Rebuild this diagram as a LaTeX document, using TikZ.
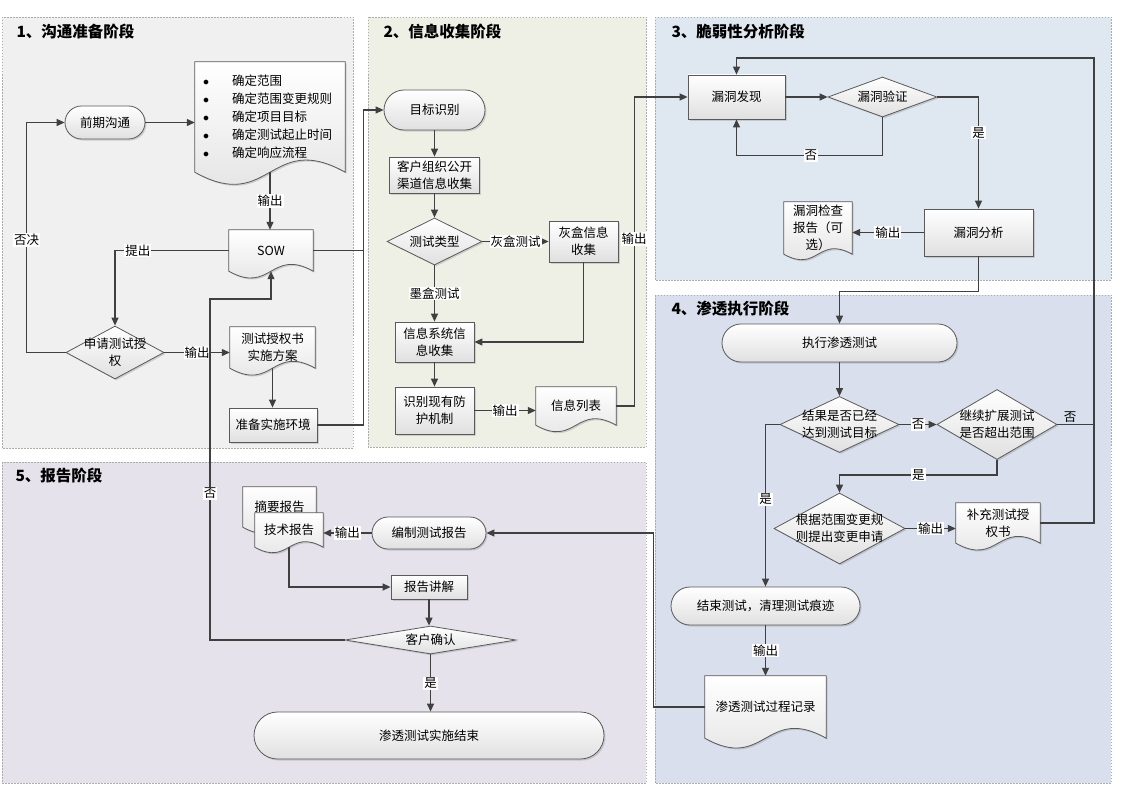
\documentclass[tikz,border=0pt]{standalone}
\usepackage{fontspec}
\setmainfont{Noto Sans CJK SC}
\usetikzlibrary{arrows.meta}
\usetikzlibrary{calc}
\usetikzlibrary{shapes.geometric,shapes.misc,shadows}

\definecolor{pa}{HTML}{F0F0F0}
\definecolor{pb}{HTML}{EEF0E6}
\definecolor{pc}{HTML}{DFE8F1}
\definecolor{pd}{HTML}{D9DFEC}
\definecolor{pe}{HTML}{E5E2EC}
\definecolor{linec}{HTML}{404040}
\definecolor{edgec}{HTML}{5A5A5A}
\definecolor{shadec}{HTML}{E0E0E0}

\pgfdeclarelayer{panels}
\pgfdeclarelayer{docs}
\pgfsetlayers{panels,docs,main}

\tikzset{
  txt/.style={font=\fontsize{12.5}{17}\selectfont},
  nodefill/.style={draw=edgec, line width=0.8pt, top color=white, bottom color=shadec,
    drop shadow={shadow xshift=1.5pt, shadow yshift=-1.5pt, opacity=0.3}},
  box/.style={nodefill, txt, rectangle, align=center, inner sep=2pt},
  term/.style={nodefill, txt, rounded rectangle, align=center, inner sep=2pt},
  dia/.style={nodefill, txt, diamond, align=center, inner sep=-6pt},
  doc/.style={txt, align=center, inner sep=2pt},
  wire/.style={draw=linec, line width=1.2pt},
  conn/.style={wire, -{Triangle[length=8pt,width=7pt]}},
  lbl/.style={txt, fill=white, inner sep=1pt},
  panel/.style={draw=gray!65, line width=0.8pt, dash pattern=on 1.5pt off 1.5pt},
  ttl/.style={anchor=west, font=\fontsize{15.5}{18}\selectfont\bfseries},
}

\begin{document}
\begin{tikzpicture}[x=1pt,y=-1pt]
\useasboundingbox (0,0) rectangle (1122,800);

% stage panels
\begin{pgfonlayer}{panels}
\fill[white] (0,0) rectangle (1122,800);
\foreach \xa/\ya/\xb/\yb/\c in {2/17/353/448/pa, 368/17/646/447/pb, 655/17/1111/280/pc, 655/295/1111/783/pd, 2/462/646/783/pe}
  \draw[panel, fill=\c] (\xa,\ya) rectangle (\xb,\yb);
\end{pgfonlayer}

\foreach \x/\y/\t [count=\i] in {13/32/1、沟通准备阶段, 380/32/2、信息收集阶段, 668/32/3、脆弱性分析阶段, 668/309/4、渗透执行阶段, 12/476/5、报告阶段}
  \node[ttl] (title\i) at (\x,\y) {\t};

% 1
\node[term, minimum width=84pt, minimum height=33pt] (talk) at (105,122.5) {前期沟通};
\node[doc, align=left, text width=134pt, inner xsep=8pt, minimum height=110pt,
  font=\fontsize{12.5}{18}\selectfont] (scope) at (270,117) {%
  \makebox[29pt][l]{$\bullet$}确定范围\\
  \makebox[29pt][l]{$\bullet$}确定范围变更规则\\
  \makebox[29pt][l]{$\bullet$}确定项目目标\\
  \makebox[29pt][l]{$\bullet$}确定测试起止时间\\
  \makebox[29pt][l]{$\bullet$}确定响应流程};
\node[doc, minimum width=84pt, minimum height=41pt] (sow) at (271,250.5) {SOW};
\node[dia, aspect=1.85, minimum width=98pt, minimum height=53pt] (apply) at (115,352.5) {申请测试授\\权};
\node[doc, minimum width=85pt, minimum height=41pt] (authdoc) at (272.5,347.5) {测试授权书\\实施方案};
\node[box, minimum width=88pt, minimum height=34pt] (env) at (273,425) {准备实施环境};

% 2
\node[term, minimum width=105pt, minimum height=40pt] (target) at (434.5,110) {目标识别};
\node[box, minimum width=90pt, minimum height=36pt] (pubinfo) at (434.5,175) {客户组织公开\\渠道信息收集};
\node[dia, aspect=2, minimum width=95pt, minimum height=47pt] (ttype) at (434.5,241.5) {测试类型};
\node[box, minimum width=69pt, minimum height=41pt] (grayinfo) at (583.5,241.5) {灰盒信息\\收集};
\node[box, minimum width=79pt, minimum height=40pt] (sysinfo) at (434.5,342) {信息系统信\\息收集};
\node[box, minimum width=79pt, minimum height=47pt] (guard) at (434.5,410.5) {识别现有防\\护机制};
\node[doc, minimum width=80pt, minimum height=38pt] (infolist) at (576,406) {信息列表};

% 3
\node[box, minimum width=97pt, minimum height=44pt] (vfind) at (736.5,97) {漏洞发现};
\node[dia, aspect=2.7, minimum width=109pt, minimum height=40pt] (vcheck) at (882.5,97) {漏洞验证};
\node[box, minimum width=109pt, minimum height=47pt] (vanal) at (978.5,232.5) {漏洞分析};
\node[doc, minimum width=68pt, minimum height=52pt] (vreport) at (818,228) {漏洞检查\\报告（可\\选）};

% 4
\node[term, minimum width=239pt, minimum height=38pt] (exec) at (839.5,343) {执行渗透测试};
\node[dia, aspect=2.1, minimum width=119pt, minimum height=56pt] (reach) at (839.5,424.5) {结果是否已经\\达到测试目标};
\node[dia, aspect=1.7, minimum width=120pt, minimum height=70pt] (extend) at (997,424.5) {继续扩展测试\\是否超出范围};
\node[dia, aspect=1.85, minimum width=131pt, minimum height=71pt] (change) at (839.5,528.5) {根据范围变更规\\则提出变更申请};
\node[doc, minimum width=84pt, minimum height=40pt] (supp) at (998,523) {补充测试授\\权书};
\node[term, minimum width=193pt, minimum height=38pt] (finish) at (765.5,606) {结束测试，清理测试痕迹};
\node[doc, minimum width=121pt, minimum height=62pt] (record) at (765.5,707) {渗透测试过程记录};

% 5
\node[doc, minimum width=73pt, minimum height=40pt] (summ) at (279.5,507) {摘要报告};
\node[doc, minimum width=68pt, minimum height=34pt] (tech) at (289,530) {技术报告};
\node[term, inner xsep=-12pt, minimum width=90pt, minimum height=32pt] (write) at (429,533) {编制测试报告};
\node[box, minimum width=76pt, minimum height=24pt] (explain) at (429,587) {报告讲解};
\node[dia, aspect=6.1, minimum width=171pt, minimum height=28pt] (confirm) at (430.5,640) {客户确认};
\node[term, minimum width=354pt, minimum height=47pt] (done) at (429,735.5) {渗透测试实施结束};

% document outlines with wavy bottom
\begin{pgfonlayer}{docs}
\foreach \d in {scope,sow,authdoc,infolist,vreport,supp,record,summ,tech}
  \path[nodefill] let \p1 = (\d.north west), \p2 = (\d.south east), \n1 = {0.28*(\x2-\x1)} in
    (\p1) -- (\x2,\y1) -- (\p2) .. controls ({(\x1+\x2)/2},{\y2+\n1}) and ({(\x1+\x2)/2},{\y2-\n1}) .. (\x1,\y2) -- cycle;
\end{pgfonlayer}

\coordinate (loop) at (1094,58);
\coordinate (back) at (210,299);

% connectors 1
\draw[conn] (talk.east) -- (talk.east -| scope.west);
\draw[conn] (scope.south) -- node[lbl] (o1) {输出} (scope.south |- sow.north);
\draw[conn] (sow.west) -| node[lbl, pos=0.4] (o2) {提出} (apply.north);
\draw[conn] (apply.west) -- ++(-39,0) |- node[lbl, pos=0.245] (o3) {否决} (talk.west);
\draw[conn] (apply.east) -- node[lbl] (o4) {输出} (apply.east -| authdoc.west);
\draw[conn] (authdoc.south) -- (authdoc.south |- env.north);
\draw[conn] (env.east) -- ++(46,0) |- (target.west);
\draw[wire] (sow.east) -- ++(50,0);

% connectors 2
\draw[conn] (target.south) -- (target.south |- pubinfo.north);
\draw[conn] (pubinfo.south) -- (pubinfo.south |- ttype.north);
\draw[conn] (ttype.east) -- node[lbl] (o5) {灰盒测试} (ttype.east -| grayinfo.west);
\draw[conn] (ttype.south) -- node[lbl] (o6) {墨盒测试} (ttype.south |- sysinfo.north);
\draw[conn] (grayinfo.south) |- (sysinfo.east);
\draw[conn] (sysinfo.south) -- (sysinfo.south |- guard.north);
\draw[conn] (guard.east) -- node[lbl] (o7) {输出} (guard.east -| infolist.west);
\draw[conn] (infolist.east) -- ++(18,0) |- node[lbl, pos=0.27] (o8) {输出} (vfind.west);

% connectors 3
\draw[conn] (vfind.east) -- (vfind.east -| vcheck.west);
\draw[conn] (vcheck.east) -| node[lbl, pos=0.66] (o9) {是} (vanal.north);
\draw[conn] (vcheck.south) -- ++(0,38) -| node[lbl, pos=0.245] (o10) {否} (vfind.south);
\draw[conn] (vanal.west) -- node[lbl] (o11) {输出} (vanal.west -| vreport.east);
\draw[conn] (vanal.south) -- ++(0,35) -| (exec.north);

% connectors 4
\draw[conn] (exec.south) -- (exec.south |- reach.north);
\draw[conn] (reach.east) -- node[lbl] (o12) {否} (reach.east -| extend.west);
\draw[wire] (extend.east) -- node[txt, above, pos=0.35, inner sep=1pt] (o13) {否} (extend.east -| loop);
\draw[conn] (extend.south) -- ++(0,15) -| node[lbl, pos=0.25] (o14) {是} (change.north);
\draw[conn] (change.east) -- node[lbl] (o15) {输出} (change.east -| supp.west);
\draw[conn] (supp.east) -| (loop) -| (vfind.north);
\draw[conn] (reach.west) -| node[lbl, pos=0.73] (o16) {是} (finish.north);
\draw[conn] (finish.south) -- node[lbl] (o17) {输出} (finish.south |- record.north);
\draw[conn] (record.west) -- ++(-51,0) |- (write.east);

% connectors 5
\draw[conn] (write.west) -- node[lbl] (o18) {输出} (write.west -| tech.east);
\draw[conn] (tech.south) |- (explain.west);
\draw[conn] (explain.south) -- (explain.south |- confirm.north);
\draw[conn] (confirm.south) -- node[lbl] (o19) {是} (confirm.south |- done.north);
\draw[conn] (confirm.west) -| node[lbl, pos=0.715] (o20) {否} (back) -| (sow.south);
\end{tikzpicture}
\end{document}
